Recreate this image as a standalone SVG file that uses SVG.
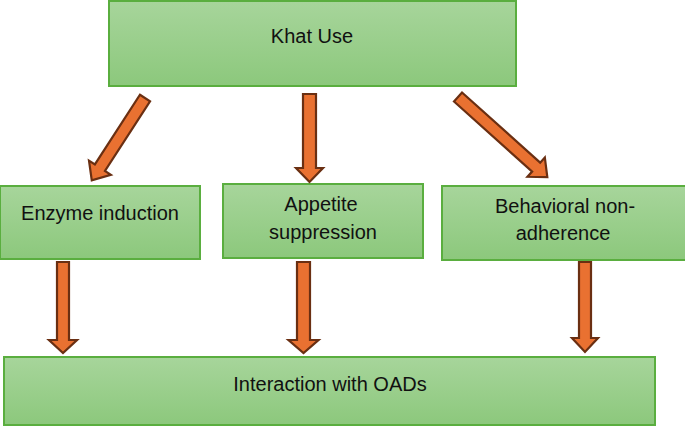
<svg xmlns="http://www.w3.org/2000/svg" width="685" height="428" viewBox="0 0 685 428">
<defs>
<linearGradient id="g" x1="0" y1="0" x2="0" y2="1">
<stop offset="0" stop-color="#a7d59b"/>
<stop offset="1" stop-color="#8cc87c"/>
</linearGradient>
</defs>
<style>
.box{fill:url(#g);stroke:#5aae3f;stroke-width:2}
.arr{fill:#e97131;stroke:#6a2f12;stroke-width:2.2;stroke-linejoin:miter}
text{font-family:"Liberation Sans",Arial,sans-serif;font-size:20px;fill:#111;text-anchor:middle}
</style>
<rect width="685" height="428" fill="#fff"/>
<g id="khat-use"><rect class="box" x="109" y="1" width="407" height="85"/><text x="312" y="43">Khat Use</text></g>
<g id="enzyme-induction"><rect class="box" x="0" y="186" width="200" height="73"/><text x="100" y="220">Enzyme induction</text></g>
<g id="appetite-suppression"><rect class="box" x="223" y="184" width="200" height="74"/><text x="321" y="211">Appetite</text><text x="323" y="239">suppression</text></g>
<g id="behavioral-non-adherence"><rect class="box" x="442" y="186" width="250" height="74"/><text x="565" y="213">Behavioral non-</text><text x="563" y="240">adherence</text></g>
<g id="interaction-oads"><rect class="box" x="4" y="357" width="651" height="68"/><text x="330" y="391">Interaction with OADs</text></g>
<g id="connectors">
<path class="arr" transform="translate(145,98) rotate(32.9)" d="M-6,0 L6,0 L6,83 L13,83 L0,98 L-13,83 L-6,83 Z"/>
<path class="arr" transform="translate(309.5,94)" d="M-6.5,0 L6.5,0 L6.5,74 L13.5,74 L0,88 L-13.5,74 L-6.5,74 Z"/>
<path class="arr" transform="translate(458,97) rotate(-48.1)" d="M-6,0 L6,0 L6,105 L13,105 L0,120 L-13,105 L-6,105 Z"/>
<path class="arr" transform="translate(63,262)" d="M-6,0 L6,0 L6,78 L14,78 L0,91 L-14,78 L-6,78 Z"/>
<path class="arr" transform="translate(303.5,262)" d="M-6.5,0 L6.5,0 L6.5,78 L15,78 L0,91 L-15,78 L-6.5,78 Z"/>
<path class="arr" transform="translate(585,262)" d="M-6,0 L6,0 L6,76 L13,76 L0,90 L-13,76 L-6,76 Z"/>
</g>
</svg>
